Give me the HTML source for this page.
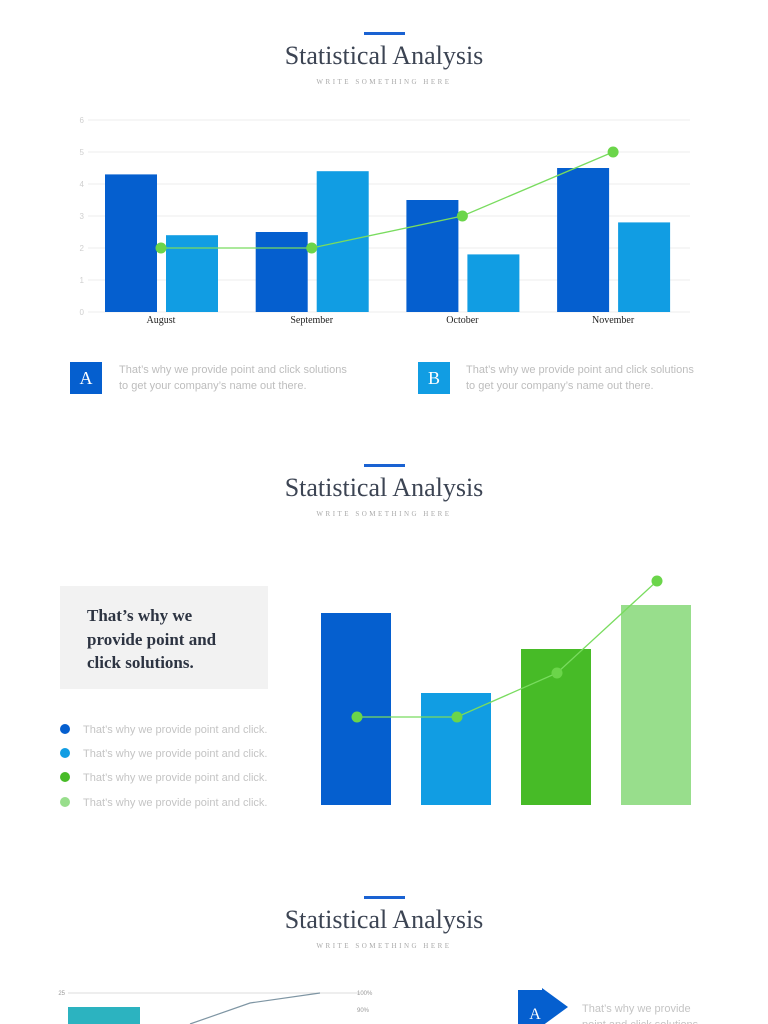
<!DOCTYPE html>
<html><head><meta charset="utf-8"><style>
body{margin:0;width:768px;height:1024px;overflow:hidden;background:#fff;font-family:"Liberation Sans",sans-serif;position:relative}
.abs{position:absolute}
.tline{position:absolute;left:364px;width:41px;height:3px;background:#1a62d2}
.title{position:absolute;left:0;width:768px;text-align:center;font-family:"Liberation Serif",serif;font-size:26px;color:#3c4453}
.sub{position:absolute;left:0;width:768px;text-align:center;font-family:"Liberation Serif",serif;font-size:7px;letter-spacing:2.5px;color:#a9a9a9}
.desc{position:absolute;font-size:11px;line-height:16px;color:#bdbdbd}
.badge{position:absolute;width:32px;height:32px;color:#fff;font-family:"Liberation Serif",serif;font-size:18px;text-align:center;line-height:32px}
.li{position:absolute;left:60px;font-size:11px;color:#c4c4c4}
.li span{display:inline-block;width:10px;height:10px;border-radius:50%;margin-right:13px;vertical-align:-1px}
</style></head><body>
<div class="tline" style="top:32px"></div>
<div class="title" style="top:41px">Statistical Analysis</div>
<div class="sub" style="top:78px">WRITE SOMETHING HERE</div>
<svg class="abs" style="left:0;top:0" width="768" height="340" id="c1"></svg>
<div class="badge" style="left:70px;top:362px;background:#055fcf">A</div>
<div class="desc" style="left:119px;top:362px">That’s why we provide point and click solutions<br>to get your company’s name out there.</div>
<div class="badge" style="left:418px;top:362px;background:#119de3">B</div>
<div class="desc" style="left:466px;top:362px">That’s why we provide point and click solutions<br>to get your company’s name out there.</div>

<div class="tline" style="top:464px"></div>
<div class="title" style="top:473px">Statistical Analysis</div>
<div class="sub" style="top:510px">WRITE SOMETHING HERE</div>
<div class="abs" style="left:60px;top:586px;width:208px;height:103px;background:#f2f2f2"></div>
<div class="abs" style="left:87px;top:604px;font-family:'Liberation Serif',serif;font-size:17px;font-weight:bold;line-height:23.5px;color:#2d3442">That’s why we<br>provide point and<br>click solutions.</div>
<div class="li" style="top:724px"><span style="background:#055fcf"></span>That’s why we provide point and click.</div>
<div class="li" style="top:748px"><span style="background:#119de3"></span>That’s why we provide point and click.</div>
<div class="li" style="top:772px"><span style="background:#47bb27"></span>That’s why we provide point and click.</div>
<div class="li" style="top:797px"><span style="background:#98de8c"></span>That’s why we provide point and click.</div>
<svg class="abs" style="left:0;top:0" width="768" height="840" id="c2"></svg>

<div class="tline" style="top:896px"></div>
<div class="title" style="top:905px">Statistical Analysis</div>
<div class="sub" style="top:942px">WRITE SOMETHING HERE</div>
<svg class="abs" style="left:0;top:960px" width="768" height="64">
<text x="65" y="35" font-size="6" fill="#999" text-anchor="end" font-family="Liberation Sans">25</text>
<line x1="68" y1="33" x2="360" y2="33" stroke="#ddd"/>
<text x="357" y="35" font-size="6" fill="#999" font-family="Liberation Sans">100%</text>
<text x="357" y="52" font-size="6" fill="#999" font-family="Liberation Sans">90%</text>
<rect x="68" y="47" width="72" height="20" fill="#2cb3c0"/>
<polyline points="190,64 250,43 320,33" fill="none" stroke="#7e95a3" stroke-width="1.2"/>
<polygon points="518,30 542,30 542,28 568,47 542,66 542,64 518,64" fill="#055fcf"/>
<text x="535" y="59" font-size="16" fill="#fff" text-anchor="middle" font-family="Liberation Serif">A</text>
<text x="582" y="52" font-size="11" fill="#c4c4c4" font-family="Liberation Sans">That’s why we provide</text>
<text x="582" y="68" font-size="11" fill="#c4c4c4" font-family="Liberation Sans">point and click solutions</text>
</svg>
<script>
const months=["August","September","October","November"];
const seriesA=[4.3,2.5,3.5,4.5];
const seriesB=[2.4,4.4,1.8,2.8];
const seriesLine=[2,2,3,5];
const yTicks=[0,1,2,3,4,5,6];
const bars2=[4.8,2.8,3.9,5.0];
const line2=[2.2,2.2,3.3,5.6];
const colors2=["#055fcf","#119de3","#47bb27","#98de8c"];
const NS="http://www.w3.org/2000/svg";
function mk(p,t,a){const e=document.createElementNS(NS,t);for(const k in a)e.setAttribute(k,a[k]);p.appendChild(e);return e;}
const c1=document.getElementById('c1');
const y1=v=>312-v*32, x1=i=>161+i*150.7;
yTicks.forEach(t=>{
 const l=mk(c1,'line',{x1:88,x2:690,y1:y1(t),y2:y1(t),stroke:'#eeeeee'});
 
 
 const tx=mk(c1,'text',{x:84,y:y1(t)+3,'font-size':8,fill:'#cfcfcf','text-anchor':'end','font-family':'Liberation Sans'});tx.textContent=t;
 
 
});
months.forEach((m,i)=>{
 const a=mk(c1,'rect',{x:x1(i)-56,y:y1(seriesA[i]),width:52,height:seriesA[i]*32,fill:'#055fcf'});
 
 
 const b=mk(c1,'rect',{x:x1(i)+5,y:y1(seriesB[i]),width:52,height:seriesB[i]*32,fill:'#119de3'});
 
 
 const t=mk(c1,'text',{x:x1(i),y:323,'font-size':10,fill:'#222','text-anchor':'middle','font-family':'Liberation Serif'});t.textContent=m;
 
 
});
const pl=mk(c1,'polyline',{points:seriesLine.map((v,i)=>x1(i)+','+y1(v)).join(' '),fill:'none',stroke:'#79dc5f','stroke-width':1.3});


seriesLine.forEach((v,i)=>{const c=mk(c1,'circle',{cx:x1(i),cy:y1(v),r:5.5,fill:'#6bd54a'});
 
 });
const c2=document.getElementById('c2');
const y2=v=>805-v*40, x2=i=>356+i*100;
bars2.forEach((v,i)=>{const r=mk(c2,'rect',{x:x2(i)-35,y:y2(v),width:70,height:v*40,fill:colors2[i]});
 
 });
const pl2=mk(c2,'polyline',{points:line2.map((v,i)=>(x2(i)+1)+','+y2(v)).join(' '),fill:'none',stroke:'#79dc5f','stroke-width':1.3});


line2.forEach((v,i)=>{const c=mk(c2,'circle',{cx:x2(i)+1,cy:y2(v),r:5.5,fill:'#6bd54a'});
 
 });
</script>
</body></html>
